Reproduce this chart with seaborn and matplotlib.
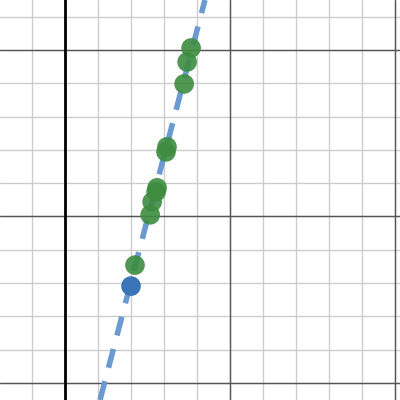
import numpy as np
import matplotlib
matplotlib.use("Agg")
import matplotlib.pyplot as plt
import seaborn as sns

# data (graph units)
blue_x = [2.00]
blue_y = [2.91]
green_x = [2.12, 2.58, 2.64, 2.76, 2.79, 3.06, 3.09, 3.61, 3.70, 3.82]
green_y = [3.54, 5.05, 5.44, 5.74, 5.86, 6.94, 7.09, 8.98, 9.64, 10.06]
line_x = [1.06, 4.24]
line_y = [-0.51, 11.5]

sns.set_style("white")
fig = plt.figure(figsize=(4, 4), dpi=100)
ax = fig.add_axes([0, 0, 1, 1])
xmin, xmax = -1.97, 10.15
ymin, ymax = -0.51, 11.5
ax.set_xlim(xmin, xmax)
ax.set_ylim(ymin, ymax)

# grid
for v in range(-1, 11):
    ax.axvline(v, color="#cccccc", lw=1, zorder=0)
for v in range(0, 12):
    ax.axhline(v, color="#cccccc", lw=1, zorder=0)
for v in [5, 10]:
    ax.axvline(v, color="#555555", lw=1, zorder=0)
for v in [0, 5, 10]:
    ax.axhline(v, color="#555555", lw=1, zorder=0)
ax.axvline(0, color="black", lw=2, zorder=1)

ax.plot(line_x, line_y, color="#6a9ad0", lw=4, dashes=(3.5, 2.5), zorder=2)
sns.scatterplot(x=blue_x, y=blue_y, color="#3a75b8", s=200, edgecolor="none", ax=ax, zorder=3)
sns.scatterplot(x=green_x, y=green_y, color="#3d8c40", s=200, edgecolor="none", alpha=0.9, ax=ax, zorder=4)

ax.set_xticks([])
ax.set_yticks([])
for s in ax.spines.values():
    s.set_visible(False)
fig.savefig("out.png", dpi=100)
